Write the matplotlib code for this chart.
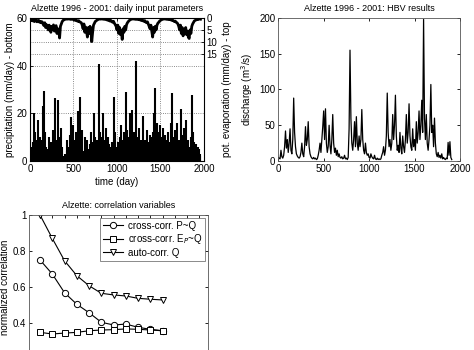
#!/usr/bin/env python3
"""Alzette 1996-2001: inputs, HBV discharge and correlation panels."""

import matplotlib

matplotlib.use("Agg")
import matplotlib.pyplot as plt
import numpy as np

plt.rcParams["font.family"] = ["Liberation Sans", "DejaVu Sans"]
plt.rcParams["font.size"] = 7

# daily precipitation, read as one value per 10 days (mm/day)
precip = [
    35, 6, 3, 8, 5, 20, 12, 4, 9, 17, 6, 10, 3, 7, 9, 23, 29.5, 12, 6, 3,
    2, 5, 10, 4, 8, 3, 13, 7, 12, 26.5, 9, 5, 25.5, 10, 7, 3, 14, 6, 2, 1,
    3, 2, 9, 4, 6, 5, 11, 18.5, 7, 4, 15, 9, 6, 12, 8, 21, 5, 10, 27, 8,
    13, 4, 2, 10, 6, 3, 9, 5, 3, 7, 12, 6, 4, 8, 20, 10, 6, 9, 7, 40.5,
    12, 8, 10, 4, 20, 9, 6, 14, 8, 5, 10, 7, 3, 6, 8, 5, 27, 9, 12, 6,
    4, 8, 3, 10, 7, 15, 6, 9, 12, 5, 29, 8, 13, 6, 10, 20, 7, 21.5, 9, 5,
    12, 8, 42, 10, 6, 14, 8, 4, 9, 3, 19, 6, 9, 5, 7, 13, 4, 8, 11, 6,
    10, 12, 8, 20, 30.5, 14, 16, 9, 12, 7, 15, 10, 8, 14, 6, 11, 9, 5, 7, 12,
    8, 4, 16, 28.5, 10, 6, 8, 13, 7, 16, 5, 9, 3, 7, 22, 11, 6, 14, 8, 17,
    5, 3, 9, 4, 6, 10, 27.5, 12, 8, 5, 4, 7, 3, 6, 5, 2, 3,
]
# potential evaporation, one value per 10 days (mm/day)
evap = [
    0.8, 1.0, 0.6, 1.2, 0.9, 1.5, 1.1, 0.8, 1.6, 1.3, 1.0, 1.8, 1.4, 2.0, 1.6,
    2.5, 3.2, 2.0, 4.0, 2.8, 3.5, 5.0, 3.0, 4.2, 6.0, 3.5, 4.8, 2.9, 5.5, 4.0,
    3.2, 6.5, 4.5, 5.0, 8.4, 3.5, 2.5,
    1.5, 1.0, 0.8, 0.6, 0.5, 0.4, 0.5, 0.3, 0.4, 0.5, 0.6, 0.4, 0.5, 0.7, 0.8,
    1.0, 0.9, 1.2, 1.4, 1.1, 1.6, 1.8, 2.0,
    3.0, 4.5, 2.5, 6.0, 3.8, 5.5, 8.0, 4.0, 6.5, 3.5, 5.0, 9.9, 6.0, 3.0, 2.2,
    1.5, 1.2, 0.9, 0.7, 0.5, 0.4, 0.5, 0.3, 0.4, 0.5, 0.4, 0.6, 0.5, 0.7, 0.9,
    0.8, 1.1, 1.3, 1.0, 1.5, 1.8, 1.4, 2.2, 2.8,
    3.5, 5.0, 3.0, 6.5, 4.0, 7.0, 5.5, 9.0, 4.5, 6.0, 3.5, 5.0, 2.8, 2.0,
    1.5, 1.1, 0.8, 0.6, 0.5, 0.4, 0.3, 0.5, 0.4, 0.6, 0.5, 0.4, 0.7, 0.6, 0.9,
    1.0, 0.8, 1.2, 1.4, 1.1, 1.7, 2.0, 1.6, 2.5,
    3.5, 4.5, 3.0, 5.5, 8.0, 4.0, 6.0, 3.5, 5.0, 3.0, 2.2, 1.8,
    1.3, 1.0, 0.8, 0.6, 0.5, 0.4, 0.3, 0.5, 0.4, 0.6, 0.5, 0.7, 0.6, 0.8, 1.0,
    0.9, 1.2, 1.5, 1.3, 1.8, 2.0, 2.5,
    3.5, 5.0, 3.0, 6.5, 4.0, 7.5, 5.0, 6.0, 4.0, 7.0, 5.5, 8.0, 8.6, 5.0, 6.5,
    3.5, 2.5,
    1.8, 1.2, 1.0, 0.8, 0.6, 0.7, 0.5, 0.4, 0.5,
]
# HBV discharge, one value per 10 days (m3/s)
discharge = [
    5, 4, 3, 15, 6, 4, 8, 20, 42, 18, 30, 12, 25, 45, 15, 10, 30, 88, 40, 20,
    10, 7, 5, 4, 6, 12, 25, 10, 6, 20, 48, 22, 30, 55, 20, 10, 6, 4, 3, 5,
    3, 4, 2, 3, 8, 15, 25, 12, 30, 48, 70, 30, 73, 25, 12, 20, 50, 22, 10, 30,
    65, 25, 12, 18, 8, 15, 6, 10, 5, 4, 6, 3, 4, 8, 3, 4, 2, 5, 45, 155,
    60, 25, 15, 30, 55, 20, 62, 25, 15, 35, 20, 30, 72, 30, 15, 10, 25, 12, 8, 10,
    5, 4, 10, 6, 4, 3, 8, 3, 2, 4, 2, 3, 2, 3, 8, 12, 20, 8, 15, 35,
    95, 40, 20, 30, 15, 25, 65, 30, 50, 92, 35, 15, 22, 12, 40, 18, 10, 35, 20, 12,
    30, 65, 25, 40, 80, 35, 20, 15, 45, 20, 30, 15, 55, 25, 40, 70, 30, 50, 85, 40,
    198, 60, 30, 65, 25, 15, 30, 50, 107, 40, 50, 20, 60, 25, 10, 6, 12, 5, 8, 4,
    10, 3, 5, 3, 2, 4, 3, 26, 8, 27, 5, 2,
]

# correlation versus lag
lags = [1, 2, 3, 4, 5, 6, 7, 8, 9, 10, 11]
corr_pq = [0.75, 0.672, 0.568, 0.504, 0.457, 0.404, 0.389, 0.394, 0.376, 0.365, 0.357]
corr_epq = [0.348, 0.339, 0.344, 0.348, 0.357, 0.361, 0.363, 0.367, 0.365, 0.361, 0.357]
auto_q = [1.0, 0.87, 0.746, 0.663, 0.607, 0.565, 0.556, 0.55, 0.537, 0.532, 0.528]

p_days = np.arange(len(precip)) * 10
e_days = np.arange(len(evap)) * 10
q_days = np.arange(len(discharge)) * 10


def style(ax):
    ax.tick_params(direction="in", length=2.5, width=0.6, top=True, right=True, pad=2)
    for s in ax.spines.values():
        s.set_linewidth(0.6)
        s.set_color("#555555")


fig = plt.figure(figsize=(4.74, 3.5), dpi=100)

# top left: precipitation (bottom) + pot. evaporation (top, inverted)
ax1 = fig.add_axes([0.0633, 0.54, 0.367, 0.4086])
ax1.vlines(p_days, 0, precip, color="k", lw=1.5)
ax1.set_xlim(0, 2000)
ax1.set_ylim(0, 60)
ax1.set_xticks([0, 500, 1000, 1500, 2000])
ax1.set_yticks([0, 20, 40, 60])
ax1.grid(True, ls=":", lw=0.6, color="#666666")
style(ax1)
ax1.tick_params(right=False)
ax1.set_xlabel("time (day)", labelpad=2)
ax1.set_ylabel("precipitation (mm/day) - bottom", labelpad=1)
ax1.set_title("Alzette 1996 - 2001: daily input parameters", fontsize=6.5, pad=5)

ax2 = ax1.twinx()
ax2.plot(e_days, evap, color="k", lw=2.0)
ax2.set_ylim(60, 0)
ax2.set_yticks([0, 5, 10, 15])
ax2.grid(True, axis="y", ls=":", lw=0.6, color="#666666")
ax2.tick_params(direction="in", length=2.5, width=0.6, pad=2)
ax2.set_ylabel("pot. evaporation (mm/day) - top", labelpad=3)

# top right: HBV discharge
ax3 = fig.add_axes([0.587, 0.54, 0.3833, 0.4086])
ax3.plot(q_days, discharge, color="k", lw=0.9)
ax3.set_xlim(0, 2000)
ax3.set_ylim(0, 200)
ax3.set_xticks([0, 500, 1000, 1500, 2000])
ax3.set_yticks([0, 50, 100, 150, 200])
style(ax3)
ax3.set_ylabel("discharge (m$^3$/s)", labelpad=3)
ax3.set_title("Alzette 1996 - 2001: HBV results", fontsize=6.5, pad=5)

# bottom: correlation variables (cut off by the figure edge)
ax4 = fig.add_axes([0.0612, -0.0257, 0.3776, 0.4114])
mk = dict(color="k", lw=0.8, ms=4.5, mfc="white", mew=0.7)
ax4.plot(lags, corr_pq, marker="o", label="cross-corr. P~Q", **mk)
ax4.plot(lags, corr_epq, marker="s", label="cross-corr. E$_P$~Q", **mk)
ax4.plot(lags, auto_q, marker="v", label="auto-corr. Q", **mk)
ax4.set_xlim(0.1, 14.7)
ax4.set_ylim(0.2, 1.0)
ax4.set_xticks(range(1, 15))
ax4.set_yticks([0.4, 0.6, 0.8, 1.0])
ax4.set_yticklabels(["0.4", "0.6", "0.8", "1"])
style(ax4)
ax4.tick_params(labelbottom=False)
ax4.set_ylabel("normalized correlation", labelpad=2)
ax4.set_title("Alzette: correlation variables", fontsize=6.5, pad=5)
leg = ax4.legend(loc="upper right", fontsize=7, frameon=True, fancybox=False,
                 edgecolor="#555555", borderaxespad=0.3, handlelength=2.0,
                 labelspacing=0.15, borderpad=0.3, handletextpad=0.5)
leg.get_frame().set_linewidth(0.6)

fig.savefig("out.png", dpi=100)
